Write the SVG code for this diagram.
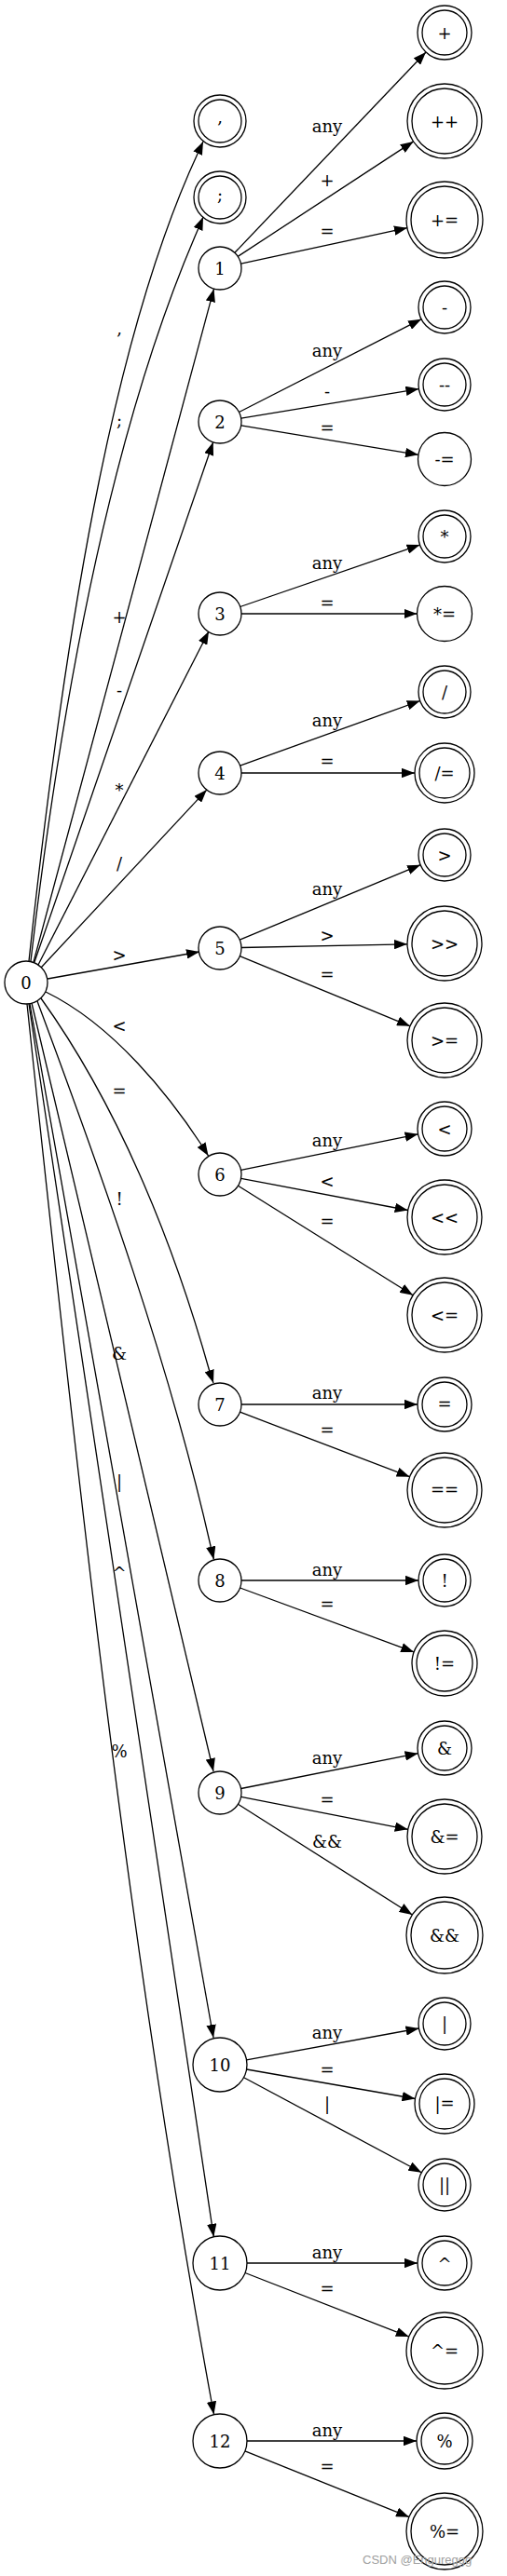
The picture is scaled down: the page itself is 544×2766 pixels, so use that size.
<svg xmlns="http://www.w3.org/2000/svg" width="544" height="2766" viewBox="0 0 544 2766">
<defs>
<marker id="ah" viewBox="0 0 14 10.4" refX="14" refY="5.2" markerWidth="14" markerHeight="10.4" markerUnits="userSpaceOnUse" orient="auto">
<path d="M0,0 L14,5.2 L0,10.4 z" fill="#000"/>
</marker>
</defs>
<style>
circle{fill:none;stroke:#000;stroke-width:1.3}
text{font-family:"DejaVu Serif","Liberation Serif",serif;font-size:18px;text-anchor:middle;fill:#000}
.edges path{fill:none;stroke:#000;stroke-width:1.3;marker-end:url(#ah)}
.wm{font-family:"Liberation Sans","DejaVu Sans",sans-serif;font-size:13px;fill:#a0a0a0;text-anchor:start}
</style>
<rect x="0" y="0" width="544" height="2766" fill="#fff"/>

<g class="edges" id="edges">
<path d="M31,1032 C74,634 128,346 212.5,164 L218,152"/>
<path d="M33,1032 C77,655 141,410 213,245 L218,233"/>
<path d="M36,1033 L229.5,310.2"/>
<path d="M37,1033 L228.7,474.8"/>
<path d="M41,1036 L224,678"/>
<path d="M44,1039 L221.8,848.1"/>
<path d="M51,1051 L214,1022"/>
<path d="M49,1065 C123,1101 183,1179 216,1229 L223.5,1241"/>
<path d="M44,1072 C125,1185 184.5,1328.5 225,1473 L229,1485"/>
<path d="M40,1075 C110,1263 182,1465 226,1660 L229.4,1674.5"/>
<path d="M34,1077 L229,1902"/>
<path d="M32,1078 L229,2188"/>
<path d="M31,1078 L229.3,2401.8"/>
<path d="M29,1078 C81.5,1575 137,2087 227,2579 L229.5,2592.5"/>

<path d="M251.9,271.3 L457,56"/>
<path d="M255.2,275.4 L443.6,151.9"/>
<path d="M258.5,283.1 L436.9,244.7"/>
<path d="M256.5,442.5 L452.1,342.7"/>
<path d="M258.7,449.2 L449.4,417.6"/>
<path d="M258.7,456.8 L448.9,488.3"/>
<path d="M257.7,651.5 L450.5,585.1"/>
<path d="M259,659 L447.5,659"/>
<path d="M257.6,822.2 L450.7,752.5"/>
<path d="M259,830 L445,830"/>
<path d="M257.2,1009.2 L451.1,928.7"/>
<path d="M259,1017.5 L437,1013.8"/>
<path d="M257.3,1026.7 L440,1101.8"/>
<path d="M258.5,1256.4 L448.6,1217.8"/>
<path d="M258.6,1265.3 L437.7,1299.5"/>
<path d="M255.5,1273.2 L443.1,1390.8"/>
<path d="M259,1508 L448,1508"/>
<path d="M257.5,1516.2 L439.6,1585.7"/>
<path d="M259,1697 L449,1697"/>
<path d="M257.6,1705 L444.2,1773.9"/>
<path d="M258.6,1920.5 L448.6,1882.7"/>
<path d="M258.6,1929.4 L437.7,1964.3"/>
<path d="M255.4,1937.3 L442.4,2056"/>
<path d="M264.5,2211.8 L449.5,2178"/>
<path d="M264.6,2222 L445.5,2253.5"/>
<path d="M261.6,2230.7 L452.3,2332.8"/>
<path d="M265,2430 L448,2430"/>
<path d="M263,2440.5 L438.8,2509.1"/>
<path d="M265,2621 L447,2621"/>
<path d="M262.9,2631.8 L439,2702.7"/>
</g>

<g id="edge-labels">
<text x="128" y="359">,</text>
<text x="128" y="458">;</text>
<text x="128" y="668.5">+</text>
<text x="128" y="748">-</text>
<text x="128" y="855">*</text>
<text x="128" y="934">/</text>
<text x="128" y="1032">&gt;</text>
<text x="128" y="1108">&lt;</text>
<text x="128" y="1177.5">=</text>
<text x="128" y="1293.5">!</text>
<text x="128" y="1459.5">&amp;</text>
<text x="128" y="1597">|</text>
<text x="128" y="1696">^</text>
<text x="128" y="1886.5">%</text>

<text x="351" y="142">any</text>
<text x="351" y="199.5">+</text>
<text x="351" y="254.5">=</text>
<text x="351" y="383">any</text>
<text x="351" y="427">-</text>
<text x="351" y="465.5">=</text>
<text x="351" y="611">any</text>
<text x="351" y="653.5">=</text>
<text x="351" y="780">any</text>
<text x="351" y="823.5">=</text>
<text x="351" y="961">any</text>
<text x="351" y="1011">&gt;</text>
<text x="351" y="1052.5">=</text>
<text x="351" y="1231">any</text>
<text x="351" y="1275">&lt;</text>
<text x="351" y="1317.5">=</text>
<text x="351" y="1502">any</text>
<text x="351" y="1541.5">=</text>
<text x="351" y="1692">any</text>
<text x="351" y="1728.5">=</text>
<text x="351" y="1894">any</text>
<text x="351" y="1938.5">=</text>
<text x="351" y="1983.5">&amp;&amp;</text>
<text x="351" y="2189">any</text>
<text x="351" y="2228.5">=</text>
<text x="351" y="2265">|</text>
<text x="351" y="2425">any</text>
<text x="351" y="2463.5">=</text>
<text x="351" y="2616">any</text>
<text x="351" y="2654.5">=</text>
</g>

<g id="n0"><circle cx="28" cy="1055" r="23"/><text x="28" y="1061.5">0</text></g>
<g id="n_comma"><circle cx="236" cy="130" r="28"/><circle cx="236" cy="130" r="23"/><text x="236" y="132">,</text></g>
<g id="n_semi"><circle cx="236" cy="212" r="28"/><circle cx="236" cy="212" r="23"/><text x="236" y="215.5">;</text></g>
<g id="n1"><circle cx="236" cy="288" r="23"/><text x="236" y="294.5">1</text></g>
<g id="n2"><circle cx="236" cy="453" r="23"/><text x="236" y="459.5">2</text></g>
<g id="n3"><circle cx="236" cy="659" r="23"/><text x="236" y="665.5">3</text></g>
<g id="n4"><circle cx="236" cy="830" r="23"/><text x="236" y="836.5">4</text></g>
<g id="n5"><circle cx="236" cy="1018" r="23"/><text x="236" y="1024.5">5</text></g>
<g id="n6"><circle cx="236" cy="1261" r="23"/><text x="236" y="1267.5">6</text></g>
<g id="n7"><circle cx="236" cy="1508" r="23"/><text x="236" y="1514.5">7</text></g>
<g id="n8"><circle cx="236" cy="1697" r="23"/><text x="236" y="1703.5">8</text></g>
<g id="n9"><circle cx="236" cy="1925" r="23"/><text x="236" y="1931.5">9</text></g>
<g id="n10"><circle cx="236" cy="2217" r="29"/><text x="236" y="2223.5">10</text></g>
<g id="n11"><circle cx="236" cy="2430" r="29"/><text x="236" y="2436.5">11</text></g>
<g id="n12"><circle cx="236" cy="2621" r="29"/><text x="236" y="2627.5">12</text></g>

<g id="t_plus"><circle cx="477" cy="35" r="29"/><circle cx="477" cy="35" r="24"/><text x="477" y="41.5">+</text></g>
<g id="t_incr"><circle cx="477" cy="130" r="40"/><circle cx="477" cy="130" r="35"/><text x="477" y="136.5">++</text></g>
<g id="t_pluseq"><circle cx="477" cy="236" r="41"/><circle cx="477" cy="236" r="36"/><text x="477" y="242.5">+=</text></g>
<g id="t_minus"><circle cx="477" cy="330" r="28"/><circle cx="477" cy="330" r="23"/><text x="477" y="336.5">-</text></g>
<g id="t_decr"><circle cx="477" cy="413" r="28"/><circle cx="477" cy="413" r="23"/><text x="477" y="419.5">--</text></g>
<g id="t_minuseq"><circle cx="477" cy="493" r="28.5"/><text x="477" y="499.5">-=</text></g>
<g id="t_mul"><circle cx="477" cy="576" r="28"/><circle cx="477" cy="576" r="23"/><text x="477" y="583">*</text></g>
<g id="t_muleq"><circle cx="477" cy="659" r="29.5"/><text x="477" y="665.5">*=</text></g>
<g id="t_div"><circle cx="477" cy="743" r="28"/><circle cx="477" cy="743" r="23"/><text x="477" y="749.5">/</text></g>
<g id="t_diveq"><circle cx="477" cy="830" r="32"/><circle cx="477" cy="830" r="27"/><text x="477" y="836.5">/=</text></g>
<g id="t_gt"><circle cx="477" cy="918" r="28"/><circle cx="477" cy="918" r="23"/><text x="477" y="924.5">&gt;</text></g>
<g id="t_shr"><circle cx="477" cy="1013" r="40"/><circle cx="477" cy="1013" r="35"/><text x="477" y="1019.5">&gt;&gt;</text></g>
<g id="t_ge"><circle cx="477" cy="1117" r="40"/><circle cx="477" cy="1117" r="35"/><text x="477" y="1123.5">&gt;=</text></g>
<g id="t_lt"><circle cx="477" cy="1212" r="29"/><circle cx="477" cy="1212" r="24"/><text x="477" y="1218.5">&lt;</text></g>
<g id="t_shl"><circle cx="477" cy="1307" r="40"/><circle cx="477" cy="1307" r="35"/><text x="477" y="1313.5">&lt;&lt;</text></g>
<g id="t_le"><circle cx="477" cy="1412" r="40"/><circle cx="477" cy="1412" r="35"/><text x="477" y="1418.5">&lt;=</text></g>
<g id="t_assign"><circle cx="477" cy="1508" r="29"/><circle cx="477" cy="1508" r="24"/><text x="477" y="1514">=</text></g>
<g id="t_eq"><circle cx="477" cy="1600" r="40"/><circle cx="477" cy="1600" r="35"/><text x="477" y="1606">==</text></g>
<g id="t_not"><circle cx="477" cy="1697" r="28"/><circle cx="477" cy="1697" r="23"/><text x="477" y="1703.5">!</text></g>
<g id="t_ne"><circle cx="477" cy="1786" r="35"/><circle cx="477" cy="1786" r="30"/><text x="477" y="1792.5">!=</text></g>
<g id="t_and"><circle cx="477" cy="1877" r="29"/><circle cx="477" cy="1877" r="24"/><text x="477" y="1883.5">&amp;</text></g>
<g id="t_andeq"><circle cx="477" cy="1972" r="40"/><circle cx="477" cy="1972" r="35"/><text x="477" y="1978.5">&amp;=</text></g>
<g id="t_land"><circle cx="477" cy="2078" r="41"/><circle cx="477" cy="2078" r="36"/><text x="477" y="2084.5">&amp;&amp;</text></g>
<g id="t_or"><circle cx="477" cy="2173" r="28"/><circle cx="477" cy="2173" r="23"/><text x="477" y="2178.5">|</text></g>
<g id="t_oreq"><circle cx="477" cy="2259" r="32"/><circle cx="477" cy="2259" r="27"/><text x="477" y="2265">|=</text></g>
<g id="t_lor"><circle cx="477" cy="2346" r="28"/><circle cx="477" cy="2346" r="23"/><text x="477" y="2351.5">||</text></g>
<g id="t_xor"><circle cx="477" cy="2430" r="29"/><circle cx="477" cy="2430" r="24"/><text x="477" y="2438">^</text></g>
<g id="t_xoreq"><circle cx="477" cy="2524" r="41"/><circle cx="477" cy="2524" r="36"/><text x="477" y="2531">^=</text></g>
<g id="t_mod"><circle cx="477" cy="2621" r="30"/><circle cx="477" cy="2621" r="25"/><text x="477" y="2627.5">%</text></g>
<g id="t_modeq"><circle cx="477" cy="2718" r="41"/><circle cx="477" cy="2718" r="36"/><text x="477" y="2724.5">%=</text></g>

<text class="wm" x="389" y="2753">CSDN @Engureggg</text>
</svg>
